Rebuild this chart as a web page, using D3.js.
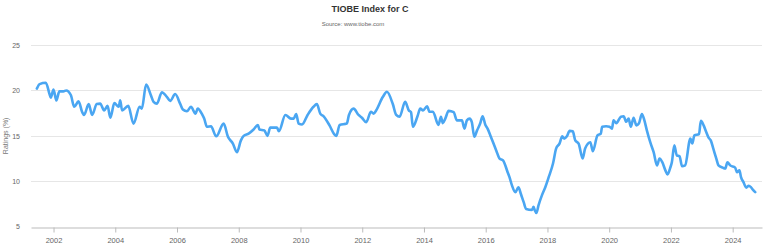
<!DOCTYPE html>
<html>
<head>
<meta charset="utf-8">
<script src="https://cdn.jsdelivr.net/npm/d3@7"></script>
<style>
  body { margin: 0; background: #fff; }
  svg { display: block; font-family: "Liberation Sans", Arial, sans-serif; }
</style>
</head>
<body>
<script>
// TIOBE index for C (decimal year, rating %)
var years = [
  2001.46, 2001.55, 2001.75, 2001.87, 2001.91, 2002.00, 2002.09, 2002.19, 2002.32, 2002.41,
  2002.56, 2002.67, 2002.81, 2002.93, 2002.99, 2003.14, 2003.25, 2003.40, 2003.51, 2003.64,
  2003.75, 2003.84, 2003.97, 2004.11, 2004.16, 2004.22, 2004.42, 2004.59, 2004.79, 2004.86,
  2005.00, 2005.15, 2005.24, 2005.35, 2005.51, 2005.67, 2005.78, 2005.94, 2006.10, 2006.19,
  2006.32, 2006.45, 2006.60, 2006.67, 2006.81, 2006.88, 2006.97, 2007.10, 2007.27, 2007.51,
  2007.65, 2007.81, 2007.94, 2008.07, 2008.16, 2008.32, 2008.48, 2008.62, 2008.67, 2008.83,
  2008.93, 2009.02, 2009.24, 2009.30, 2009.51, 2009.69, 2009.78, 2009.86, 2009.94, 2010.05,
  2010.23, 2010.42, 2010.53, 2010.64, 2010.75, 2010.94, 2011.09, 2011.16, 2011.27, 2011.50,
  2011.57, 2011.72, 2011.88, 2011.99, 2012.13, 2012.28, 2012.37, 2012.45, 2012.67, 2012.80,
  2012.99, 2013.10, 2013.21, 2013.39, 2013.51, 2013.58, 2013.64, 2013.79, 2013.88, 2013.97,
  2014.10, 2014.18, 2014.29, 2014.47, 2014.55, 2014.61, 2014.69, 2014.80, 2014.96, 2015.07,
  2015.23, 2015.31, 2015.39, 2015.48, 2015.55, 2015.63, 2015.72, 2015.82, 2015.90, 2015.99,
  2016.06, 2016.15, 2016.34, 2016.45, 2016.56, 2016.71, 2016.77, 2016.85, 2016.96, 2017.06,
  2017.14, 2017.23, 2017.31, 2017.50, 2017.55, 2017.59, 2017.64, 2017.71, 2017.82, 2017.93,
  2018.04, 2018.18, 2018.28, 2018.39, 2018.48, 2018.54, 2018.63, 2018.72, 2018.82, 2018.90,
  2019.01, 2019.14, 2019.22, 2019.39, 2019.47, 2019.62, 2019.73, 2019.77, 2019.90, 2020.01,
  2020.09, 2020.14, 2020.23, 2020.38, 2020.47, 2020.55, 2020.63, 2020.70, 2020.79, 2020.88,
  2020.96, 2021.06, 2021.14, 2021.22, 2021.33, 2021.44, 2021.55, 2021.63, 2021.72, 2021.82,
  2021.89, 2021.98, 2022.03, 2022.11, 2022.19, 2022.28, 2022.36, 2022.46, 2022.63, 2022.69,
  2022.76, 2022.91, 2022.97, 2023.06, 2023.14, 2023.22, 2023.29, 2023.38, 2023.47, 2023.54,
  2023.68, 2023.76, 2023.83, 2023.92, 2024.08, 2024.14, 2024.22, 2024.27, 2024.35, 2024.44,
  2024.52, 2024.59, 2024.66, 2024.73
];
var ratings = [
  20.2, 20.7, 20.85, 19.6, 19.2, 20.1, 18.9, 19.9, 19.9, 20.0,
  19.5, 18.2, 18.8, 17.6, 17.3, 18.5, 17.3, 18.5, 18.55, 17.8,
  18.3, 17.0, 18.6, 18.2, 18.9, 17.8, 18.3, 16.35, 18.2, 18.0,
  20.65, 19.5, 18.75, 18.55, 19.8, 19.3, 18.85, 19.6, 18.55, 17.9,
  17.7, 18.2, 17.45, 18.0, 17.4, 16.9, 16.0, 16.05, 14.95, 16.35,
  14.9, 14.15, 13.2, 14.5, 15.0, 15.25, 15.7, 16.2, 15.7, 15.6,
  15.0, 15.9, 15.9, 15.5, 17.3, 16.9, 16.9, 17.4, 16.35, 16.25,
  17.3, 18.2, 18.5, 17.45, 17.15, 16.15, 15.2, 15.0, 16.2, 16.35,
  17.3, 18.0, 17.3, 17.0, 16.5, 17.65, 17.45, 17.8, 19.3, 19.85,
  18.5, 17.3, 17.1, 18.75, 17.8, 17.6, 16.0, 17.15, 18.0, 17.8,
  18.25, 17.65, 17.65, 16.2, 17.1, 16.4, 16.9, 17.75, 17.6, 16.7,
  16.7, 15.8, 16.7, 16.9, 16.5, 14.9, 15.6, 16.35, 17.15, 16.2,
  15.8, 15.05, 13.4, 12.5, 12.3, 11.0, 10.45, 9.55, 8.8, 9.35,
  8.6, 7.7, 6.95, 6.85, 7.2, 6.8, 6.5, 7.35, 8.45, 9.35,
  10.45, 11.95, 13.6, 14.15, 14.95, 14.7, 14.95, 15.55, 15.5, 14.5,
  14.15, 12.5, 13.6, 14.3, 13.3, 15.05, 15.25, 16.0, 16.05, 16.0,
  15.8, 16.7, 16.4, 17.1, 17.15, 16.55, 16.9, 16.0, 17.0, 16.15,
  16.35, 17.4, 16.7, 15.6, 14.3, 13.2, 11.75, 12.5, 12.1, 11.2,
  10.75, 11.5, 12.1, 13.95, 12.85, 12.75, 11.65, 11.75, 14.7, 14.15,
  15.05, 15.2, 16.65, 16.15, 15.45, 14.8, 14.5, 13.5, 12.5, 11.75,
  11.5, 11.4, 12.1, 11.75, 11.5, 11.0, 11.2, 10.45, 9.9, 9.3,
  9.5, 9.35, 9.05, 8.8
];
var xTicks = [2002, 2004, 2006, 2008, 2010, 2012, 2014, 2016, 2018, 2020, 2022, 2024];
var yTicks = [5, 10, 15, 20, 25];

var width = 768,
    height = 250;
var margin = {top: 45, right: 6, bottom: 23, left: 31};

var svg = d3.select("body").append("svg")
    .attr("width", width)
    .attr("height", height);

var x = d3.scaleLinear()
    .domain([2001.27, 2024.95])
    .range([margin.left, width - margin.right]);

var y = d3.scaleLinear()
    .domain([5, 25])
    .range([height - margin.bottom - 0.3, margin.top]);

// titles
svg.append("text")
    .attr("x", 370).attr("y", 12)
    .attr("text-anchor", "middle")
    .style("font-size", "9px")
    .style("font-weight", "bold")
    .style("fill", "#333")
    .text("TIOBE Index for C");

svg.append("text")
    .attr("x", 353).attr("y", 26)
    .attr("text-anchor", "middle")
    .style("font-size", "6px")
    .style("fill", "#666")
    .text("Source: www.tiobe.com");

// horizontal grid
svg.append("g")
  .selectAll("line")
  .data(yTicks.filter(d => d > 5))
  .join("line")
    .attr("x1", margin.left)
    .attr("x2", width - margin.right)
    .attr("y1", d => Math.round(y(d)) + 0.5)
    .attr("y2", d => Math.round(y(d)) + 0.5)
    .attr("stroke", "#e6e6e6");

// y axis labels
var yAxis = svg.append("g")
    .attr("transform", "translate(" + margin.left + ",0)")
    .call(d3.axisLeft(y).tickValues(yTicks).tickSize(0).tickPadding(11));
yAxis.select(".domain").remove();
yAxis.selectAll("text")
    .style("font-size", "7px")
    .style("fill", "#666")
    .style("font-family", "Liberation Sans, Arial, sans-serif");

svg.append("text")
    .attr("transform", "translate(8," + (margin.top + (y(5) - margin.top) / 2) + ") rotate(-90)")
    .attr("text-anchor", "middle")
    .style("font-size", "7px")
    .style("fill", "#777")
    .text("Ratings (%)");

// x axis
var xAxis = svg.append("g")
    .attr("transform", "translate(0," + (Math.round(y(5)) + 0.5) + ")")
    .call(d3.axisBottom(x).tickValues(xTicks).tickFormat(d3.format("d")).tickSize(5).tickSizeOuter(0).tickPadding(5));
xAxis.select(".domain").attr("stroke", "#bbbbbb");
xAxis.selectAll(".tick line").attr("stroke", "#bbbbbb");
xAxis.selectAll("text")
    .style("font-size", "7.5px")
    .style("fill", "#666")
    .style("font-family", "Liberation Sans, Arial, sans-serif");

// the series
var data = years.map((t, i) => [t, ratings[i]]);

var line = d3.line()
    .x(d => x(d[0]))
    .y(d => y(d[1]))
    .curve(d3.curveMonotoneX);

svg.append("path")
    .datum(data)
    .attr("fill", "none")
    .attr("stroke", "#4aa6f2")
    .attr("stroke-width", 2.6)
    .attr("stroke-linejoin", "round")
    .attr("stroke-linecap", "round")
    .attr("d", line);
</script>
</body>
</html>
